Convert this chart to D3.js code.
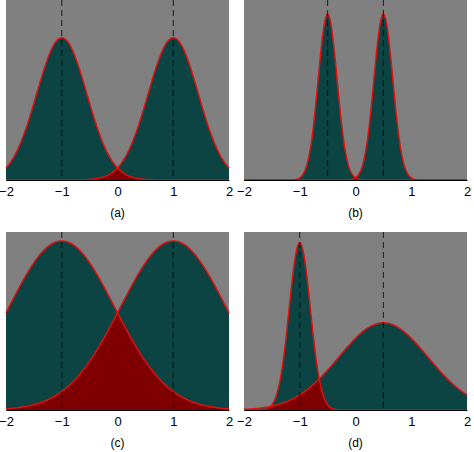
<!DOCTYPE html>
<html><head><meta charset="utf-8">
<script src="https://cdn.jsdelivr.net/npm/d3@7"></script>
<style>body{margin:0;background:#fff}text{font-family:Arial,"Liberation Sans",sans-serif}</style>
</head><body><svg id="c" width="474" height="452"></svg>
<script>
// panel captions and x ticks
var captions = ["(a)", "(b)", "(c)", "(d)"];
var xTicks = [-2, -1, 0, 1, 2];
// gaussian parameters per panel: means, widths, peak heights (fraction of plot height)
var means = [[-1, 1], [-0.5, 0.5], [-1, 1], [-1, 0.5]];
var sigmas = [[0.45, 0.45], [0.17, 0.17], [0.95, 0.95], [0.19, 0.8]];
var peaks = [[0.79, 0.79], [0.92, 0.92], [0.95, 0.95], [0.94, 0.49]];

var svg = d3.select("#c");
var boxes = [
  {x0: 6, x1: 229, y0: 0, y1: 180},
  {x0: 244, x1: 467, y0: 0, y1: 180},
  {x0: 6, x1: 229, y0: 232, y1: 410},
  {x0: 244, x1: 467, y0: 232, y1: 410}
];

boxes.forEach(function(b, i) {
  var x = d3.scaleLinear().domain([-2, 2]).range([b.x0, b.x1]);
  var y = d3.scaleLinear().domain([0, 1]).range([b.y1, b.y0]);
  var g = svg.append("g");
  g.append("rect").attr("x", b.x0).attr("y", b.y0)
    .attr("width", b.x1 - b.x0).attr("height", b.y1 - b.y0).attr("fill", "#808080");

  var xs = d3.range(-2, 2.0001, 0.01);
  var curve = function(k) {
    return xs.map(function(v) {
      return [v, peaks[i][k] * Math.exp(-Math.pow(v - means[i][k], 2) / (2 * sigmas[i][k] * sigmas[i][k]))];
    });
  };
  var c0 = curve(0), c1 = curve(1);
  var area = d3.area().x(function(d) { return x(d[0]); }).y0(y(0)).y1(function(d) { return y(d[1]); });
  var line = d3.line().x(function(d) { return x(d[0]); }).y(function(d) { return y(d[1]); });

  [c0, c1].forEach(function(c) {
    g.append("path").attr("d", area(c)).attr("fill", "#0c4343");
  });
  var overlap = xs.map(function(v, j) { return [v, Math.min(c0[j][1], c1[j][1])]; });
  g.append("path").attr("d", area(overlap)).attr("fill", "#7f0000");
  [c0, c1].forEach(function(c) {
    g.append("path").attr("d", line(c)).attr("fill", "none").attr("stroke", "#e01010").attr("stroke-width", 1.5);
  });
  means[i].forEach(function(m) {
    g.append("line").attr("x1", x(m)).attr("x2", x(m)).attr("y1", b.y0).attr("y2", b.y1)
      .attr("stroke", "#000").attr("stroke-dasharray", "6,4").attr("stroke-width", 0.8);
  });

  var ax = g.append("g").attr("transform", "translate(0," + b.y1 + ")")
    .call(d3.axisBottom(x).tickValues(xTicks).tickFormat(d3.format("d")).tickSize(0).tickPadding(7));
  ax.select(".domain").attr("stroke", "#000");
  ax.selectAll("text").attr("font-size", 13).attr("fill", "#000");

  g.append("text").attr("x", (b.x0 + b.x1) / 2).attr("y", b.y1 + 37)
    .attr("text-anchor", "middle").attr("font-size", 12).text(captions[i]);
});
</script></body></html>
